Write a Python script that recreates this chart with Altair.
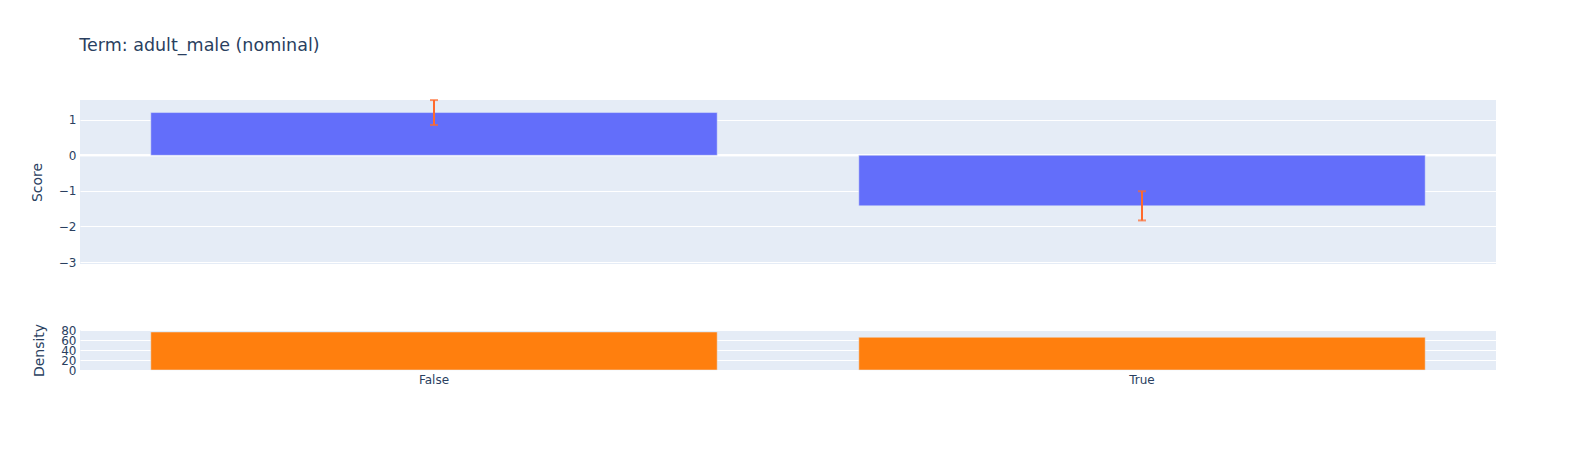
import altair as alt
import pandas as pd

categories = ["False", "True"]
scores = [1.20, -1.42]
errors = [0.35, 0.41]
density = [76.6, 66.0]

score_df = pd.DataFrame({"cat": categories, "score": scores, "err": errors})
score_df["lo"] = score_df["score"] - score_df["err"]
score_df["hi"] = score_df["score"] + score_df["err"]
dens_df = pd.DataFrame({"cat": categories, "density": density})

FONT = "DejaVu Sans"
TXT = "#2a3f5f"
BG = "#E5ECF6"
W = 1416

xscale = alt.Scale(domain=categories, paddingInner=0.2, paddingOuter=0.1)

base_top = alt.Chart(score_df)
y_top = alt.Y("score:Q", title="Score",
              scale=alt.Scale(domain=[-3.054, 1.553], nice=False, zero=False),
              axis=alt.Axis(values=[-3, -2, -1, 0, 1], labelFlush=False,
                            labelOverlap=False))
xenc = alt.X("cat:N", scale=xscale, axis=None, sort=categories)

zero = alt.Chart(score_df).mark_rule(color="white", strokeWidth=2).encode(y=alt.datum(0))
bars = base_top.mark_bar(color="#636efa", stroke=BG, strokeWidth=0.5).encode(x=xenc, y=y_top)
stems = base_top.mark_rule(color="#ff6a2c", strokeWidth=2).encode(x=xenc, y="lo:Q", y2="hi:Q")
cap_lo = base_top.mark_tick(color="#ff6a2c", size=8, thickness=2).encode(x=xenc, y="lo:Q")
cap_hi = base_top.mark_tick(color="#ff6a2c", size=8, thickness=2).encode(x=xenc, y="hi:Q")
top = alt.layer(zero, bars, stems, cap_lo, cap_hi).properties(width=W, height=164)

bottom = alt.Chart(dens_df).mark_bar(color="#ff7f0e", stroke=BG, strokeWidth=0.5).encode(
    x=alt.X("cat:N", scale=xscale, sort=categories, title=None,
            axis=alt.Axis(labelAngle=0, grid=False, labelPadding=4)),
    y=alt.Y("density:Q", title="Density",
            scale=alt.Scale(domain=[0, 80.6], nice=False),
            axis=alt.Axis(values=[0, 20, 40, 60, 80], labelFlush=False,
                          labelOverlap=False)),
).properties(width=W, height=40)

chart = alt.vconcat(top, bottom, spacing=54).properties(
    title=alt.TitleParams("Term: adult_male (nominal)", anchor="start", fontSize=17.5,
                          font=FONT, fontWeight="normal", color=TXT, offset=45, dx=49),
    padding={"left": 22, "top": 28, "right": 10, "bottom": 10},
).configure_view(stroke=None, fill=BG).configure_axis(
    grid=True, gridColor="white", gridWidth=1, domain=False, ticks=False,
    labelColor=TXT, titleColor=TXT, labelFont=FONT, titleFont=FONT,
    labelFontSize=12, titleFontSize=14, titleFontWeight="normal",
    labelPadding=4, titlePadding=14,
).configure_concat(spacing=54)

chart.save("out.html", embed_options={"renderer": "svg", "actions": False})
